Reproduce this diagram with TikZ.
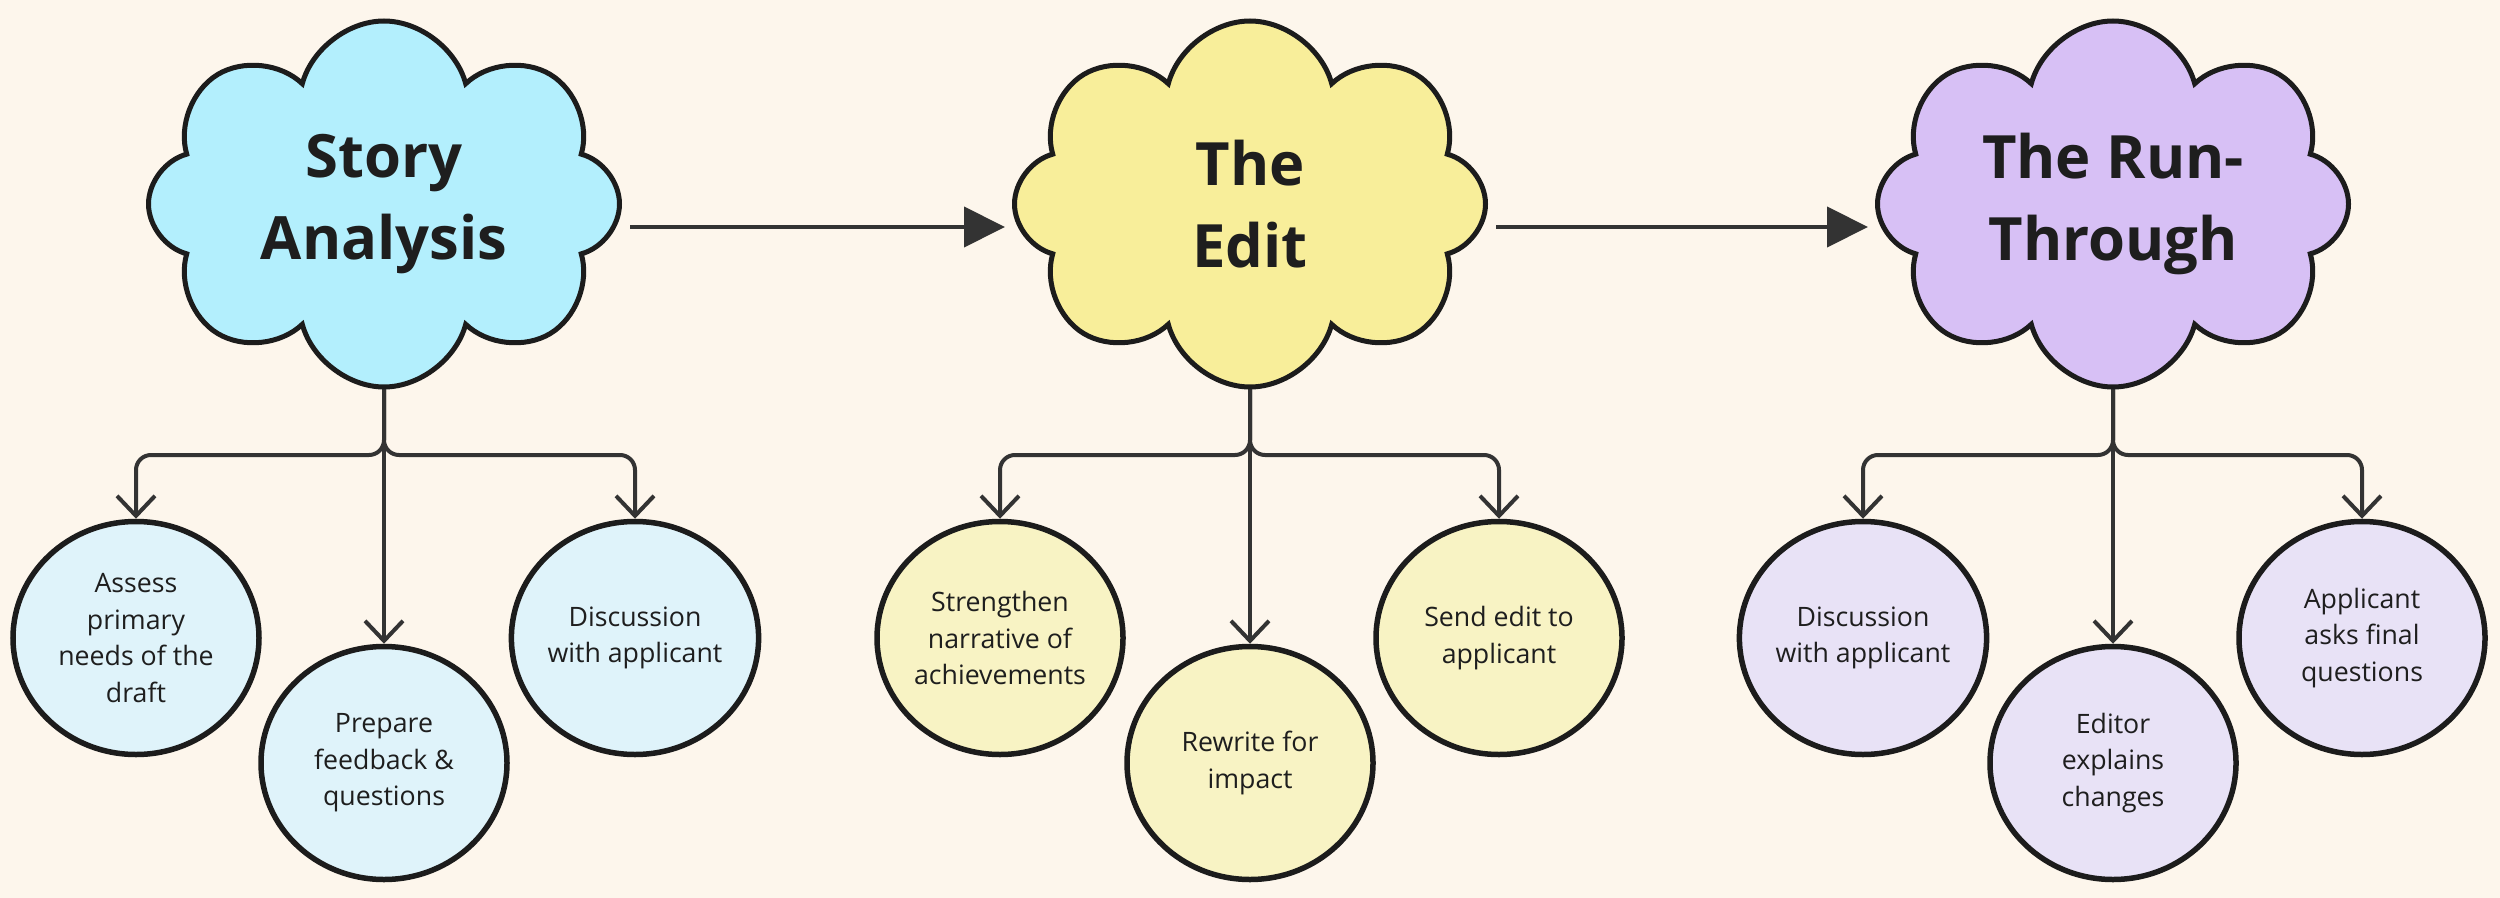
\documentclass[tikz,border=0pt]{standalone}
\usepackage{fontspec}
\setmainfont{Open Sans}
\usepackage{xcolor}
\usepackage{tikz}
\usetikzlibrary{arrows.meta,positioning,shapes.geometric,shapes.symbols,calc,backgrounds}

\definecolor{bgc}{HTML}{FDF6EC}
\definecolor{skyA}{HTML}{B3EFFD}
\definecolor{skyB}{HTML}{DFF3FA}
\definecolor{sunA}{HTML}{F8EE9A}
\definecolor{sunB}{HTML}{F8F3C4}
\definecolor{lilA}{HTML}{D7C0F5}
\definecolor{lilB}{HTML}{E8E2F6}
\definecolor{edgec}{HTML}{1C1C1C}
\definecolor{linec}{HTML}{333333}
\definecolor{inkc}{HTML}{1E1E1E}

\begin{document}
\begin{tikzpicture}[stage/.style={cloud, cloud puffs=8, cloud puff arc=150, cloud ignores aspect, draw=edgec, line width=0.5mm, minimum width=4.71cm, minimum height=3.66cm, align=center, text=inkc, font=\fontsize{17}{23.3}\selectfont\bfseries}, task/.style={ellipse, draw=edgec, line width=0.55mm, minimum width=2.46cm, minimum height=2.33cm, inner sep=0pt, align=center, text=inkc, font=\fontsize{7.6}{10.4}\selectfont}, flow/.style={-{Triangle[length=4.1mm,width=4mm]}, line width=0.4mm, draw=linec}, fork/.style={-{Straight Barb[length=2mm,width=3.8mm]}, line width=0.4mm, draw=linec, rounded corners=1.5mm}]
\useasboundingbox (0,0) rectangle (25,-8.98);
% stages
\node[stage, fill=skyA] (sa) at (3.84,-2.04) {Story\\Analysis};
\node[stage, fill=sunA] (ed) at (12.50,-2.04) {The\\Edit};
\node[stage, fill=lilA] (rt) at (21.13,-2.04) {The Run-\\Through};
% tasks
\node[task, fill=skyB] (sa1) at (1.36,-6.38) {Assess\\primary\\needs of the\\draft};
\node[task, fill=skyB] (sa2) at (3.84,-7.63) {Prepare\\feedback \&\\questions};
\node[task, fill=skyB] (sa3) at (6.35,-6.38) {Discussion\\with applicant};
\node[task, fill=sunB] (ed1) at (10.00,-6.38) {Strengthen\\narrative of\\achievements};
\node[task, fill=sunB] (ed2) at (12.50,-7.63) {Rewrite for\\impact};
\node[task, fill=sunB] (ed3) at (14.99,-6.38) {Send edit to\\applicant};
\node[task, fill=lilB] (rt1) at (18.63,-6.38) {Discussion\\with applicant};
\node[task, fill=lilB] (rt2) at (21.13,-7.63) {Editor\\explains\\changes};
\node[task, fill=lilB] (rt3) at (23.62,-6.38) {Applicant\\asks final\\questions};
\begin{scope}[on background layer]
\fill[bgc] (0,0) rectangle (25,-8.98);
\foreach \c in {sa,ed,rt} {\draw[fork] (\c.center) -- (\c.center |- 0,-4.55) -| (\c1.north); \draw[fork] (\c.center) -- (\c2.north); \draw[fork] (\c.center) -- (\c.center |- 0,-4.55) -| (\c3.north);}
\end{scope}
\draw[flow] ([shift={(0.08,-0.23)}]sa.east) -- ([shift={(-0.07,-0.23)}]ed.west);
\draw[flow] ([shift={(0.08,-0.23)}]ed.east) -- ([shift={(-0.07,-0.23)}]rt.west);
\end{tikzpicture}
\end{document}
